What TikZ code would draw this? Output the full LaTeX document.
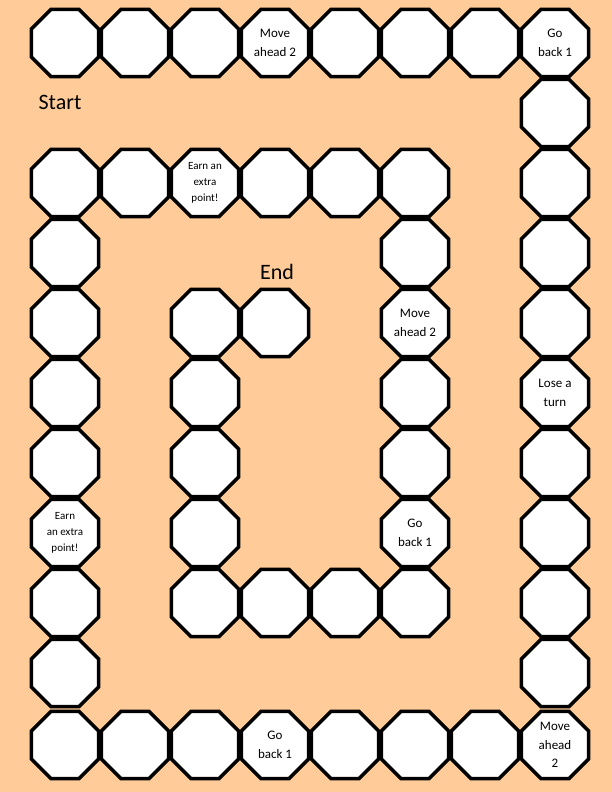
\documentclass[tikz,border=0pt]{standalone}
\usepackage{fontspec}
\setmainfont{Carlito}
\usetikzlibrary{shapes.geometric}
\definecolor{bg}{HTML}{FFCC99}
\begin{document}
\begin{tikzpicture}[x=1pt,y=-1pt,
  cell/.style={regular polygon,regular polygon sides=8,minimum size=73pt,inner sep=0pt,
    draw=black,line width=3.5pt,fill=white},
  lab/.style={align=center,font=\fontsize{13}{18.5}\selectfont},
  small/.style={align=center,font=\fontsize{11}{16}\selectfont}]
\fill[bg] (0,0) rectangle (612,792);
\useasboundingbox (0,0) rectangle (612,792);
\foreach \i/\x in {1/65,2/135,3/205,4/275,5/345,6/415,7/485,8/555}
  \node[cell] (t\i) at (\x,43) {};
\node[lab] at (t4) {Move\\ahead 2};
\node[lab] at (t8) {Go\\back 1};
\foreach \i/\y in {2/113,3/183,4/253,5/323,6/393,7/463,8/533,9/603,10/673,11/745}
  \node[cell] (r\i) at (555,\y) {};
\node[lab] at (r6) {Lose a\\turn};
\node[lab] at (r11) {Move\\ahead\\2};
\foreach \i/\x in {1/65,2/135,3/205,4/275,5/345,6/415,7/485}
  \node[cell] (b\i) at (\x,745) {};
\node[lab] at (b4) {Go\\back 1};
\foreach \i/\y in {1/183,2/253,3/323,4/393,5/463,6/533,7/603,8/673}
  \node[cell] (l\i) at (65,\y) {};
\node[small] at (l6) {Earn\\an extra\\point!};
\foreach \i/\x in {2/135,3/205,4/275,5/345,6/415}
  \node[cell] (s\i) at (\x,183) {};
\node[small] at (s3) {Earn an\\extra\\point!};
\foreach \i/\y in {2/253,3/323,4/393,5/463,6/533,7/603}
  \node[cell] (m\i) at (415,\y) {};
\node[lab] at (m3) {Move\\ahead 2};
\node[lab] at (m6) {Go\\back 1};
\foreach \i/\x in {1/205,2/275,3/345}
  \node[cell] (n\i) at (\x,603) {};
\foreach \i/\y in {1/323,2/393,3/463,4/533}
  \node[cell] (k\i) at (205,\y) {};
\node[cell] (e) at (275,323) {};
\node (start) at (60,102) {\fontsize{22}{26}\selectfont Start};
\node (end) at (277,272) {\fontsize{22}{26}\selectfont End};
\end{tikzpicture}
\end{document}
